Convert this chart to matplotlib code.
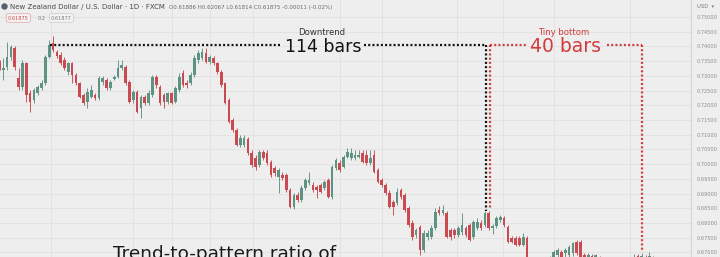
import matplotlib
matplotlib.use("Agg")
import matplotlib.pyplot as plt
import numpy as np

# NZD/USD daily candles (bar 0 = left edge)
opens = [
    .7344, .7320, .7330, .7364, .7395, .7293, .7262, .7344, .7242, .7218,
    .7242, .7259, .7276, .7364, .7412, .7381, .7371, .7354, .7313, .7344,
    .7303, .7276, .7235, .7211, .7228, .7235, .7225, .7279, .7286, .7259,
    .7289, .7296, .7327, .7330, .7279, .7218, .7245, .7191, .7228, .7208,
    .7235, .7296, .7262, .7235, .7211, .7242, .7211, .7252, .7310, .7276,
    .7276, .7303, .7354, .7361, .7378, .7347, .7361, .7344, .7313, .7276,
    .7218, .7150, .7116, .7065, .7065, .7085, .7038, .7021, .6997, .7041,
    .7038, .7007, .6987, .6956, .6963, .6963, .6912, .6854, .6895, .6878,
    .6919, .6936, .6929, .6922, .6929, .6919, .6946, .6888, .6987, .7004,
    .6990, .7024, .7021, .7021, .7024, .7038, .7031, .7004, .7031, .6980,
    .6946, .6929, .6902, .6871, .6868, .6912, .6895, .6851, .6800, .6759,
    .6786, .6708, .6752, .6752, .6783, .6844, .6834, .6834, .6776, .6776,
    .6759, .6769, .6783, .6793, .6752, .6783, .6800, .6793, .6834, .6783,
    .6790, .6810, .6817, .6786, .6749, .6749, .6749, .6725, .6749, .6657,
    .6623, .6599, .6640, .6623, .6647, .6667, .6691, .6701, .6698, .6691,
    .6698, .6735, .6735, .6691, .6674, .6688, .6667, .6681, .6657, .6640,
    .6667, .6633, .6647, .6667, .6654, .6667, .6667, .6688, .6681, .6684,
    .6674, .6681, .6667, .6654, .6667, .6647, .6667, .6654, .6674, .6647,
    .6667]
highs = [
    .7354, .7361, .7415, .7405, .7402, .7327, .7354, .7347, .7252, .7259,
    .7269, .7286, .7371, .7422, .7436, .7388, .7381, .7364, .7347, .7347,
    .7310, .7279, .7242, .7259, .7269, .7242, .7300, .7300, .7293, .7286,
    .7303, .7354, .7354, .7337, .7286, .7252, .7252, .7235, .7235, .7252,
    .7303, .7303, .7269, .7242, .7245, .7245, .7266, .7310, .7320, .7286,
    .7313, .7371, .7388, .7395, .7395, .7371, .7368, .7347, .7320, .7279,
    .7225, .7157, .7123, .7099, .7099, .7092, .7048, .7031, .7048, .7048,
    .7048, .7014, .6994, .6987, .6973, .6970, .6919, .6902, .6905, .6929,
    .6953, .6973, .6939, .6929, .6936, .6946, .6953, .6997, .7021, .7014,
    .7031, .7055, .7055, .7048, .7048, .7048, .7048, .7048, .7048, .6987,
    .6953, .6936, .6912, .6878, .6919, .6919, .6902, .6858, .6810, .6783,
    .6793, .6776, .6776, .6793, .6851, .6858, .6861, .6841, .6783, .6783,
    .6790, .6834, .6790, .6800, .6810, .6817, .6810, .6841, .6841, .6796,
    .6824, .6827, .6824, .6793, .6756, .6756, .6756, .6766, .6756, .6664,
    .6630, .6640, .6647, .6664, .6688, .6708, .6715, .6708, .6715, .6725,
    .6735, .6742, .6742, .6698, .6698, .6694, .6694, .6688, .6667, .6674,
    .6674, .6664, .6674, .6674, .6684, .6681, .6694, .6694, .6698, .6691,
    .6701, .6688, .6674, .6681, .6674, .6674, .6677, .6681, .6681, .6677,
    .6674]
lows = [
    .7320, .7286, .7320, .7354, .7320, .7252, .7252, .7211, .7177, .7208,
    .7235, .7252, .7269, .7361, .7381, .7361, .7337, .7320, .7303, .7276,
    .7269, .7225, .7201, .7191, .7225, .7218, .7218, .7269, .7252, .7252,
    .7286, .7293, .7320, .7269, .7208, .7208, .7174, .7157, .7201, .7201,
    .7228, .7259, .7201, .7191, .7204, .7204, .7208, .7245, .7262, .7259,
    .7269, .7296, .7344, .7354, .7344, .7340, .7337, .7306, .7262, .7204,
    .7140, .7109, .7062, .7058, .7058, .7031, .6990, .6980, .6990, .7014,
    .6997, .6956, .6960, .6902, .6946, .6905, .6851, .6847, .6871, .6871,
    .6912, .6929, .6905, .6885, .6902, .6912, .6885, .6881, .6980, .6973,
    .6987, .7021, .7014, .7014, .7021, .7004, .6997, .6997, .6970, .6936,
    .6922, .6895, .6851, .6827, .6861, .6881, .6837, .6786, .6742, .6749,
    .6691, .6701, .6742, .6745, .6776, .6827, .6827, .6749, .6742, .6749,
    .6752, .6759, .6752, .6739, .6745, .6776, .6776, .6786, .6776, .6762,
    .6783, .6803, .6786, .6732, .6732, .6722, .6722, .6722, .6640, .6616,
    .6582, .6589, .6599, .6616, .6640, .6657, .6667, .6667, .6681, .6681,
    .6688, .6691, .6674, .6647, .6667, .6657, .6657, .6640, .6626, .6633,
    .6616, .6626, .6640, .6633, .6647, .6660, .6657, .6667, .6667, .6660,
    .6664, .6650, .6640, .6647, .6633, .6640, .6650, .6647, .6640, .6640,
    .6650]
closes = [
    .7327, .7327, .7364, .7398, .7330, .7262, .7344, .7235, .7211, .7252,
    .7262, .7276, .7364, .7405, .7388, .7368, .7344, .7327, .7344, .7303,
    .7276, .7228, .7208, .7245, .7252, .7225, .7293, .7293, .7259, .7279,
    .7296, .7327, .7337, .7276, .7211, .7245, .7177, .7228, .7208, .7242,
    .7296, .7269, .7208, .7211, .7242, .7208, .7259, .7296, .7269, .7269,
    .7303, .7361, .7378, .7381, .7347, .7364, .7344, .7313, .7269, .7208,
    .7143, .7116, .7065, .7089, .7089, .7038, .6997, .6990, .7041, .7021,
    .7004, .6963, .6970, .6980, .6953, .6912, .6854, .6895, .6878, .6919,
    .6946, .6946, .6912, .6912, .6905, .6939, .6888, .6990, .7014, .6980,
    .7024, .7041, .7038, .7031, .7031, .7007, .7004, .7021, .6973, .6939,
    .6929, .6902, .6854, .6854, .6905, .6888, .6844, .6793, .6752, .6776,
    .6708, .6766, .6766, .6783, .6837, .6834, .6844, .6752, .6752, .6759,
    .6783, .6793, .6759, .6742, .6803, .6803, .6783, .6834, .6783, .6790,
    .6817, .6820, .6793, .6735, .6735, .6725, .6725, .6752, .6657, .6623,
    .6589, .6633, .6606, .6657, .6681, .6701, .6708, .6684, .6708, .6718,
    .6732, .6698, .6684, .6657, .6691, .6667, .6691, .6647, .6633, .6667,
    .6623, .6657, .6667, .6640, .6681, .6681, .6684, .6674, .6688, .6667,
    .6688, .6657, .6647, .6667, .6640, .6667, .6654, .6674, .6647, .6667,
    .6654]

price_ticks = [0.670, 0.675, 0.680, 0.685, 0.690, 0.695, 0.700, 0.705, 0.710,
               0.715, 0.720, 0.725, 0.730, 0.735, 0.740, 0.745, 0.750]
time_grid = [13.5, 34.9, 45.1, 55.1, 66.3, 89.1, 100, 119.7, 131.7, 145, 164.9]

trend_start, trend_bars = 13.2, 114
pattern_bars = 40

UP = '#5e9282'
DOWN = '#c94a50'
BG = '#eeeeee'

fig = plt.figure(figsize=(7.2, 2.57), dpi=100, facecolor=BG)
ax = fig.add_axes([0, 0, 691 / 720, 1])
ax.set_facecolor(BG)

o = np.array(opens); h = np.array(highs); l = np.array(lows); c = np.array(closes)
idx = np.arange(len(o))
up = c >= o
cols = np.where(up, UP, DOWN)
ax.vlines(idx, l, h, colors=cols, lw=0.65, zorder=3)
body = np.maximum(np.abs(c - o), 0.00025)
ax.bar(idx, body, bottom=np.minimum(o, c), width=0.7, color=cols, lw=0, zorder=4)

ax.set_xlim(0.13, 180.9)
ax.set_ylim(0.66842, 0.7558)

ax.set_yticks(price_ticks)
ax.yaxis.set_major_formatter(matplotlib.ticker.FormatStrFormatter('%.5f'))
ax.yaxis.set_ticks_position('right')
ax.tick_params(axis='y', length=0, pad=4, labelsize=3.6, labelcolor='#8c8c8c')
ax.set_xticks(time_grid)
ax.tick_params(axis='x', length=0, labelbottom=False)
ax.grid(True, color='#e2e2e2', lw=0.7, zorder=0)
for s in ['top', 'left', 'bottom']:
    ax.spines[s].set_visible(False)
ax.spines['right'].set_color('#d6d6d6')
ax.spines['right'].set_linewidth(0.8)

# annotations
dot = dict(lw=1.6, linestyle=(0, (0.9, 1.0)), dash_capstyle='butt', zorder=6)
top = 0.7405
trend_end = 127.4
ax.plot([trend_start, 73.6], [top, top], color='#111111', **dot)
ax.plot([95.3, trend_end], [top, top], color='#111111', **dot)
ax.plot([trend_end, trend_end], [top, 0.6840], color='#111111', **dot)
ax.text(84.6, 0.7382, f'{trend_bars} bars', fontsize=12.5, color='#111111',
        ha='center', va='baseline', zorder=7)
ax.text(84.4, 0.7449, 'Downtrend', fontsize=6.1, color='#333333',
        ha='center', va='center', zorder=7)

red = '#d23b3b'
p0, p1 = 128.3, 168.1
ax.plot([p0, p0], [top, 0.6846], color=red, **dot)
ax.plot([p0, 138.2], [top, top], color=red, **dot)
ax.plot([158.9, p1], [top, top], color=red, **dot)
ax.plot([p1, p1], [top, 0.6701], color=red, **dot)
ax.text(148.0, 0.7382, f'{pattern_bars} bars', fontsize=13.5, color=red,
        ha='center', va='baseline', zorder=7)
ax.text(147.5, 0.7446, 'Tiny bottom', fontsize=6.1, color=red,
        ha='center', va='center', zorder=7)

# caption runs off the bottom edge, as in the source
ax.text(113 / 691, 1 - 259 / 257, 'Trend-to-pattern ratio of', transform=ax.transAxes,
        fontsize=13.3, color='#1a1a1a', ha='left', va='baseline', clip_on=False, zorder=8)

# header
ax.plot([4 / 691], [1 - 6 / 257], 'o', ms=3.6, color='#55606b', transform=ax.transAxes, zorder=8)
fig.text(10 / 720, 1 - 7 / 257, 'New Zealand Dollar / U.S. Dollar · 1D · FXCM',
         fontsize=5.0, color='#4a4a4a', va='center')
fig.text(169 / 720, 1 - 7 / 257, 'O0.61886 H0.62067 L0.61814 C0.61875 -0.00011 (-0.02%)',
         fontsize=3.95, color='#6a6a6a', va='center')
fig.text(8 / 720, 1 - 18 / 257, '0.61875', fontsize=3.6, color='#d04848', va='center',
         bbox=dict(boxstyle='round,pad=0.35', fc='#f4f4f4', ec='#e3a3a3', lw=0.5))
fig.text(38 / 720, 1 - 18 / 257, '0.2', fontsize=3.6, color='#777777', va='center')
fig.text(51 / 720, 1 - 18 / 257, '0.61877', fontsize=3.6, color='#777777', va='center',
         bbox=dict(boxstyle='round,pad=0.35', fc='#f4f4f4', ec='#c8c8c8', lw=0.5))
fig.text(697 / 720, 1 - 7 / 257, 'USD  ▾', fontsize=3.8, color='#7a7a7a', va='center')

fig.savefig('out.png', dpi=100, facecolor=BG)
